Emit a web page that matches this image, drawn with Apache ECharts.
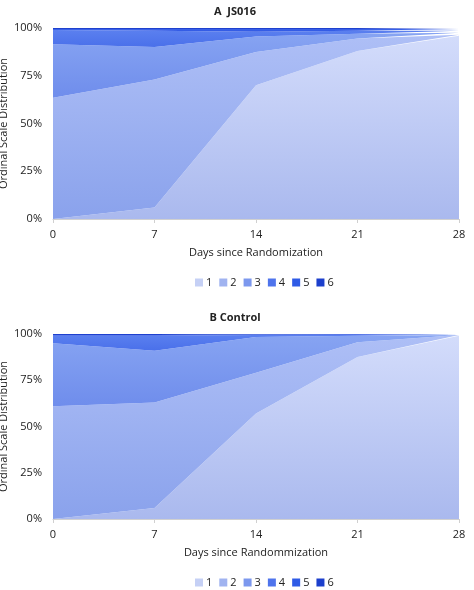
<!DOCTYPE html>
<html><head><meta charset="utf-8">
<script src="https://cdn.jsdelivr.net/npm/echarts@6/dist/echarts.min.js"></script>
<style>html,body{margin:0;padding:0;background:#fff}#c{width:474px;height:590px}</style>
</head><body><div id="c"></div>
<script>
const days = ['0', '7', '14', '21', '28'];
const levels = ['1', '2', '3', '4', '5', '6'];
// Panel A: JS016 (percent per ordinal level at each day)
const jsL1 = [0, 6, 70, 88, 96];
const jsL2 = [63.5, 67, 17.5, 6.5, 0.5];
const jsL3 = [28, 17, 8, 2.5, 1];
const jsL4 = [7.5, 8.5, 2.5, 1.5, 1];
const jsL5 = [0.5, 1, 1.5, 1, 1];
const jsL6 = [0.5, 0.5, 0.5, 0.5, 0.5];
// Panel B: Control
const ctL1 = [0, 6, 57, 87.6, 99];
const ctL2 = [61, 57, 22, 8, 0.5];
const ctL3 = [34, 28, 19.4, 3.4, 0];
const ctL4 = [4, 8, 1, 0.5, 0.2];
const ctL5 = [0.5, 0.5, 0.3, 0.3, 0.2];
const ctL6 = [0.5, 0.5, 0.3, 0.2, 0.1];
const yTicks = ['0%', '25%', '50%', '75%', '100%'];

const topCols = ['#d3dcfb', '#aebff6', '#87a4f2', '#5b80ef', '#3a62ea', '#2447d6'];
const botCols = ['#aab9ee', '#8aa2ec', '#6f8dec', '#4a70ea', '#2f57e2', '#1a3cc8'];
const legCols = ['#c5d0f5', '#a0b3f0', '#7c98ee', '#4f74ec', '#2f5be6', '#1c3fcc'];

function grad(i){
  return new echarts.graphic.LinearGradient(0,0,0,1,[{offset:0,color:topCols[i]},{offset:1,color:botCols[i]}]);
}
function mk(arrs, idx, stack){
  return arrs.map((a, i) => ({
    name: levels[i], type: 'line', stack: stack, xAxisIndex: idx, yAxisIndex: idx,
    data: a.slice(),
    showSymbol: false, symbol: 'none', lineStyle: {width: 0}, itemStyle: {color: legCols[i]},
    areaStyle: {color: grad(i), opacity: 1}, emphasis: {disabled: true}
  }));
}
const font = 'Open Sans';
function xAx(idx, name){
  return {type: 'category', gridIndex: idx, data: days, boundaryGap: false,
    name: name, nameLocation: 'middle', nameGap: 28, nameMoveOverlap: false,
    nameTextStyle: {fontFamily: font, fontSize: 11, color: '#222'},
    axisLine: {show: true, lineStyle: {color: '#d0d0d0'}},
    axisTick: {show: true, length: 4, lineStyle: {color: '#d0d0d0'}},
    axisLabel: {fontFamily: font, fontSize: 11, color: '#222', margin: 10},
    splitLine: {show: false}};
}
function yAx(idx){
  return {type: 'value', gridIndex: idx, min: 0, max: 100, interval: 25,
    name: 'Ordinal Scale Distribution', nameLocation: 'middle', nameGap: 44, nameRotate: 90,
    nameMoveOverlap: false,
    nameTextStyle: {fontFamily: font, fontSize: 11, color: '#222'},
    axisLine: {show: false}, axisTick: {show: false},
    axisLabel: {fontFamily: font, fontSize: 11, color: '#222', margin: 11,
      formatter: v => yTicks[Math.round(v / 25)]},
    splitLine: {show: false}};
}
function leg(top){
  return {top: top, left: 190, itemWidth: 8, itemHeight: 8, itemGap: 7,
    icon: 'rect', data: levels, selectedMode: false,
    textStyle: {fontFamily: font, fontSize: 11, color: '#222', padding: [0,0,0,-2]}};
}
const chart = echarts.init(document.getElementById('c'), null, {renderer: 'canvas'});
chart.setOption({
  animation: false,
  title: [
    {text: 'A  JS016', left: 230, top: 1, textAlign: 'center', textStyle: {fontFamily: font, fontSize: 11, fontWeight: 'bold', color: '#222'}},
    {text: 'B Control', left: 230, top: 307, textAlign: 'center', textStyle: {fontFamily: font, fontSize: 11, fontWeight: 'bold', color: '#222'}}
  ],
  grid: [
    {left: 53, right: 15, top: 28, height: 191, outerBoundsMode: 'none', containLabel: false},
    {left: 53, right: 15, top: 334, height: 185, outerBoundsMode: 'none', containLabel: false}
  ],
  xAxis: [xAx(0, 'Days since Randomization'), xAx(1, 'Days since Randommization')],
  yAxis: [yAx(0), yAx(1)],
  legend: [leg(272), leg(572)],
  series: [...mk([jsL1, jsL2, jsL3, jsL4, jsL5, jsL6], 0, 'a'), ...mk([ctL1, ctL2, ctL3, ctL4, ctL5, ctL6], 1, 'b')]
});
</script></body></html>
